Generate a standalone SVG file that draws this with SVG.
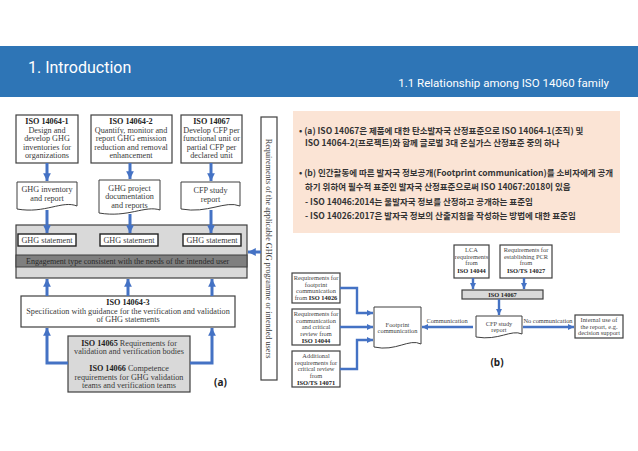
<svg xmlns="http://www.w3.org/2000/svg" width="638" height="451" viewBox="0 0 638 451">
<defs>
<marker id="ah" viewBox="0 0 10 10" refX="10" refY="5" markerWidth="2.6" markerHeight="2.6" orient="auto" markerUnits="strokeWidth"><path d="M0,0 L10,5 L0,10 z" fill="#4472C4"/></marker>
<style>
.box{fill:#fff;stroke:#3f3f3f;stroke-width:1.2}
.gbox{fill:#d9d9d9;stroke:#3f3f3f;stroke-width:1.2}
.doc{fill:#fff;stroke:#3f3f3f;stroke-width:1}
.ta{font-family:"Liberation Serif",serif;font-size:8.2px;fill:#3a3a3a;text-anchor:middle}
.tb{font-family:"Liberation Serif",serif;font-size:6.4px;fill:#444;text-anchor:middle}
.bd{font-weight:bold;fill:#222}
.arr{fill:none;stroke:#4472C4;stroke-width:3;marker-end:url(#ah)}
.arrb{fill:none;stroke:#4472C4;stroke-width:2.4;marker-end:url(#ah)}
.kr{font-family:"Noto Sans CJK KR","Noto Sans",sans-serif;font-size:8.5px;fill:#333;font-weight:bold}
</style>
</defs>
<rect width="638" height="451" fill="#fff"/>
<g id="header">
<rect x="0" y="46" width="638" height="51" fill="#2E75B6"/>
<text x="28" y="73" font-family="Roboto,sans-serif" font-size="16" fill="#fff">1. Introduction</text>
<text x="609" y="87" font-family="Roboto,sans-serif" font-size="11.5" fill="#fff" text-anchor="end">1.1 Relationship among ISO 14060 family</text>
</g>
<g id="diagram-a-background">
<rect id="gray-region" x="16" y="225" width="231" height="53" class="gbox"/>
<rect id="engagement" x="16" y="255" width="231" height="12" fill="#7f7f7f" stroke="#3f3f3f" stroke-width="1"/>
<text x="26" y="264" font-family="Liberation Serif,serif" font-size="8" fill="#2a2a2a">Engagement type consistent with the needs of the intended user</text>
</g>
<g id="iso14064-1">
<rect x="16" y="115" width="62" height="48" class="box"/>
<text class="ta"><tspan x="47" y="124" class="bd">ISO 14064-1</tspan><tspan x="47" y="132.5">Design and</tspan><tspan x="47" y="141">develop GHG</tspan><tspan x="47" y="149.5">inventories for</tspan><tspan x="47" y="158">organizations</tspan></text>
</g>
<g id="iso14064-2">
<rect x="91" y="115" width="81" height="48" class="box"/>
<text class="ta"><tspan x="131" y="124" class="bd">ISO 14064-2</tspan><tspan x="131" y="132.5">Quantify, monitor and</tspan><tspan x="131" y="141">report GHG emission</tspan><tspan x="131" y="149.5">reduction and removal</tspan><tspan x="131" y="158">enhancement</tspan></text>
</g>
<g id="iso14067-a">
<rect x="181" y="115" width="61" height="48" class="box"/>
<text class="ta"><tspan x="211.5" y="124" class="bd">ISO 14067</tspan><tspan x="211.5" y="132.5">Develop CFP per</tspan><tspan x="211.5" y="141">functional unit or</tspan><tspan x="211.5" y="149.5">partial CFP per</tspan><tspan x="211.5" y="158">declared unit</tspan></text>
</g>
<g id="doc-ghg-inventory">
<path class="doc" d="M17,182 H77 V206 C62,200 45,214 17,209 Z"/>
<text class="ta"><tspan x="47" y="192">GHG inventory</tspan><tspan x="47" y="200.5">and report</tspan></text>
</g>
<g id="doc-ghg-project">
<path class="doc" d="M99,180 H160 V210 C145,205 128,218 99,213 Z"/>
<text class="ta"><tspan x="129.5" y="190.5">GHG project</tspan><tspan x="129.5" y="199">documentation</tspan><tspan x="129.5" y="207.5">and reports</tspan></text>
</g>
<g id="doc-cfp-a">
<path class="doc" d="M181,182 H240 V206 C225,200 208,214 181,209 Z"/>
<text class="ta"><tspan x="210.5" y="193">CFP study</tspan><tspan x="210.5" y="201.5">report</tspan></text>
</g>
<g id="ghg-statement-1">
<rect x="18" y="234" width="58" height="12" fill="#fff" stroke="#222" stroke-width="1.4"/>
<text class="ta" x="47" y="243">GHG statement</text>
</g>
<g id="ghg-statement-2">
<rect x="100" y="234" width="58" height="12" fill="#fff" stroke="#222" stroke-width="1.4"/>
<text class="ta" x="129" y="243">GHG statement</text>
</g>
<g id="ghg-statement-3">
<rect x="183" y="234" width="58" height="12" fill="#fff" stroke="#222" stroke-width="1.4"/>
<text class="ta" x="212" y="243">GHG statement</text>
</g>
<g id="iso14064-3">
<rect x="21" y="296" width="214" height="31" class="box"/>
<text class="ta"><tspan x="128" y="304.5" class="bd">ISO 14064-3</tspan><tspan x="128" y="313.5">Specification with guidance for the verification and validation</tspan><tspan x="128" y="322">of GHG statements</tspan></text>
</g>
<g id="iso14065-66">
<rect x="68" y="336" width="122" height="56" class="gbox"/>
<text class="ta"><tspan x="129" y="345.5"><tspan class="bd">ISO 14065</tspan> Requirements for</tspan><tspan x="129" y="354">validation and verification bodies</tspan><tspan x="129" y="371"><tspan class="bd">ISO 14066</tspan> Competence</tspan><tspan x="129" y="379.5">requirements for GHG validation</tspan><tspan x="129" y="388">teams and verification teams</tspan></text>
</g>
<g id="requirements-vertical">
<rect x="261" y="117" width="16" height="263" class="box"/>
<text class="ta" transform="translate(266.3,248.5) rotate(90)" x="0" y="0">Requirements of the applicable GHG programme or intended users</text>
</g>
<text x="220.5" y="385.5" font-family="Noto Sans,sans-serif" font-size="10" font-weight="bold" fill="#222" text-anchor="middle">(a)</text>
<g id="connectors-a">
<path class="arr" d="M47,163 V181"/>
<path class="arr" d="M130,163 V179"/>
<path class="arr" d="M211,163 V181"/>
<path class="arr" d="M47,210 V233"/>
<path class="arr" d="M130,214 V233"/>
<path class="arr" d="M211,210 V233"/>
<path class="arr" d="M47,296 V279"/>
<path class="arr" d="M128,296 V279"/>
<path class="arr" d="M212,296 V279"/>
<path class="arr" d="M68,363 H47 V328"/>
<path class="arr" d="M190,363 H212 V328"/>
<path class="arr" d="M261,252 H248"/>
</g>
<g id="textbox">
<rect x="293" y="111" width="327" height="122" fill="#FBE4D5"/>
<text class="kr" x="299" y="134">• (a) ISO 14067은 제품에 대한 탄소발자국 산정표준으로 ISO 14064-1(조직) 및</text>
<text class="kr" x="305" y="146">ISO 14064-2(프로젝트)와 함께 글로벌 3대 온실가스 산정표준 중의 하나</text>
<text class="kr" x="299" y="176">• (b) 인간활동에 따른 발자국 정보공개(Footprint communication)를 소비자에게 공개</text>
<text class="kr" x="305" y="190">하기 위하여 필수적 표준인 발자국 산정표준으로써 ISO 14067:2018이 있음</text>
<text class="kr" x="305" y="205">- ISO 14046:2014는 물발자국 정보를 산정하고 공개하는 표준임</text>
<text class="kr" x="305" y="219">- ISO 14026:2017은 발자국 정보의 산출지침을 작성하는 방법에 대한 표준임</text>
</g>
<g id="req-14026">
<rect x="292" y="273" width="48" height="30" class="box"/>
<text class="tb"><tspan x="316" y="280">Requirements for</tspan><tspan x="316" y="286.7">footprint</tspan><tspan x="316" y="293.4">communication</tspan><tspan x="316" y="300.1">from <tspan class="bd">ISO 14026</tspan></tspan></text>
</g>
<g id="req-14044">
<rect x="292" y="309" width="48" height="36" class="box"/>
<text class="tb"><tspan x="316" y="316">Requirements for</tspan><tspan x="316" y="322.7">communication</tspan><tspan x="316" y="329.4">and critical</tspan><tspan x="316" y="336.1">review from</tspan><tspan x="316" y="342.8" class="bd">ISO 14044</tspan></text>
</g>
<g id="req-14071">
<rect x="292" y="351" width="48" height="36" class="box"/>
<text class="tb"><tspan x="316" y="358">Additional</tspan><tspan x="316" y="364.7">requirements for</tspan><tspan x="316" y="371.4">critical review</tspan><tspan x="316" y="378.1">from</tspan><tspan x="316" y="384.8" class="bd">ISO/TS 14071</tspan></text>
</g>
<g id="doc-footprint">
<path class="doc" d="M374,307 H421 V344 C409,338 396,352 374,347 Z"/>
<text class="tb"><tspan x="397.5" y="326.5">Footprint</tspan><tspan x="397.5" y="332.5">communication</tspan></text>
</g>
<g id="lca-14044">
<rect x="454" y="245" width="35" height="33" class="box"/>
<text class="tb"><tspan x="471.5" y="252">LCA</tspan><tspan x="471.5" y="258.5">requirements</tspan><tspan x="471.5" y="265">from</tspan><tspan x="471.5" y="272.5" class="bd">ISO 14044</tspan></text>
</g>
<g id="pcr-14027">
<rect x="500" y="245" width="52" height="33" class="box"/>
<text class="tb"><tspan x="526" y="252">Requirements for</tspan><tspan x="526" y="258.5">establishing PCR</tspan><tspan x="526" y="265">from</tspan><tspan x="526" y="272.5" class="bd">ISO/TS 14027</tspan></text>
</g>
<g id="iso14067-b">
<rect x="462" y="290" width="81" height="9" class="gbox"/>
<text class="tb bd" x="502.5" y="297">ISO 14067</text>
</g>
<g id="doc-cfp-b">
<path class="doc" d="M476,316 H522 V334 C511,329 499,341 476,337 Z"/>
<text class="tb"><tspan x="499" y="325.5">CFP study</tspan><tspan x="499" y="332">report</tspan></text>
</g>
<g id="internal-use">
<rect x="575" y="315" width="48" height="23" class="box"/>
<text class="tb"><tspan x="599" y="322">Internal use of</tspan><tspan x="599" y="328.7">the report, e.g.</tspan><tspan x="599" y="335.4">decision support</tspan></text>
</g>
<text x="497" y="366" font-family="Noto Sans,sans-serif" font-size="10" font-weight="bold" fill="#222" text-anchor="middle">(b)</text>
<g id="connectors-b">
<path class="arrb" d="M340,288 H357 V313 H373"/>
<path class="arrb" d="M340,327 H373"/>
<path class="arrb" d="M340,369 H357 V340 H373"/>
<path class="arrb" d="M473,327 H422"/>
<path class="arrb" d="M523,327 H574"/>
<path class="arrb" d="M473,278 V289"/>
<path class="arrb" d="M524,278 V289"/>
<path class="arrb" d="M499,299 V315"/>
<text class="tb" x="447" y="323">Communication</text>
<text class="tb" x="548" y="323">No communication</text>
</g>
</svg>
